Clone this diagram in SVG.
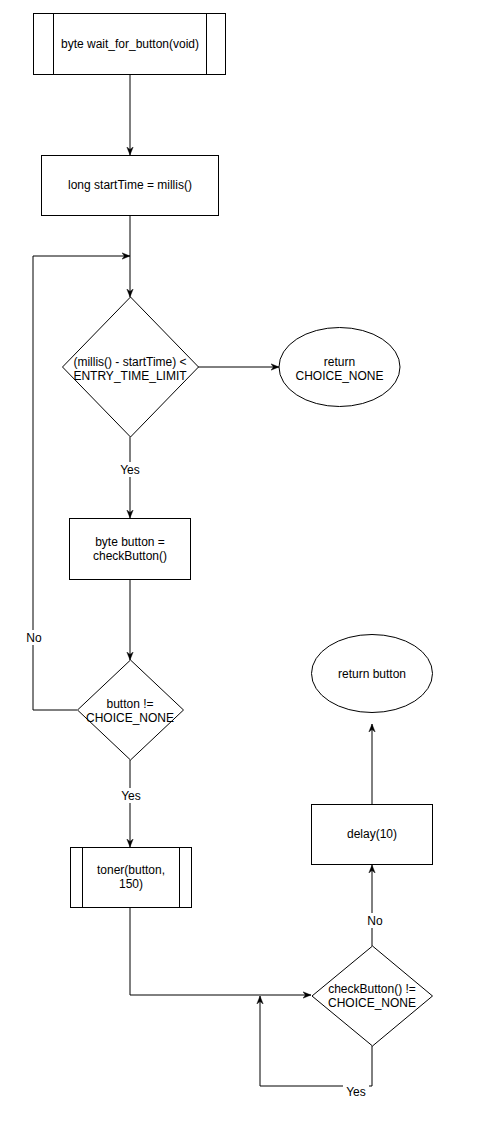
<svg xmlns="http://www.w3.org/2000/svg" width="493" height="1134" viewBox="0 0 493 1134">
<style>
.n{fill:#fff;stroke:#000;stroke-width:1}
.c{fill:none;stroke:#000;stroke-width:1}
text{font-family:"Liberation Sans",Arial,sans-serif;font-size:12px;fill:#000;text-anchor:middle}
.lbl{fill:#000}
.bg{fill:#fff}
</style>
<defs>
<marker id="a" viewBox="0 0 10 10" refX="10" refY="5" markerWidth="8" markerHeight="8" markerUnits="userSpaceOnUse" orient="auto">
<path d="M0,1 L10,5 L0,9 L3,5 z" fill="#000" stroke="#000" stroke-width="0.5"/>
</marker>
</defs>
<rect width="493" height="1134" fill="#fff"/>
<g id="connectors">
<path class="c" d="M130,74 V155" marker-end="url(#a)"/>
<path class="c" d="M130,215 V297" marker-end="url(#a)"/>
<path class="c" d="M198,367 H279" marker-end="url(#a)"/>
<path class="c" d="M130,437 V518" marker-end="url(#a)"/>
<path class="c" d="M130,579 V660" marker-end="url(#a)"/>
<path class="c" d="M77,710 H33 V256 H130" marker-end="url(#a)"/>
<path class="c" d="M130,760 V847" marker-end="url(#a)"/>
<path class="c" d="M130,907 V995 H311" marker-end="url(#a)"/>
<path class="c" d="M372,1046 V1086 H260 V996" marker-end="url(#a)"/>
<path class="c" d="M372,946 V865" marker-end="url(#a)"/>
<path class="c" d="M372,804 V724" marker-end="url(#a)"/>
<rect class="bg" x="117" y="462" width="26" height="15"/>
<text x="130" y="474">Yes</text>
<rect class="bg" x="24" y="630" width="20" height="15"/>
<text x="34" y="642">No</text>
<rect class="bg" x="117" y="788" width="26" height="15"/>
<text x="131" y="800">Yes</text>
<rect class="bg" x="365" y="913" width="20" height="15"/>
<text x="375" y="925">No</text>
<rect class="bg" x="343" y="1084" width="26" height="15"/>
<text x="356" y="1096">Yes</text>
</g>
<g id="start">
<rect class="n" x="33.5" y="13.5" width="192" height="61"/>
<path class="c" d="M53.5,13.5 V74.5 M206.5,13.5 V74.5"/>
<text x="130" y="48">byte wait_for_button(void)</text>
</g>
<g id="startTime">
<rect class="n" x="41.5" y="155.5" width="177" height="60"/>
<text x="130" y="189">long startTime = millis()</text>
</g>
<g id="timeCheck">
<path class="n" d="M130.5,297 L198.5,367 L130.5,437 L62.5,367 Z"/>
<text x="130" y="366">(millis() - startTime) &lt;</text>
<text x="130" y="380">ENTRY_TIME_LIMIT</text>
</g>
<g id="returnNone">
<ellipse class="n" cx="339.5" cy="367" rx="60.5" ry="39.5"/>
<text x="339.5" y="366">return</text>
<text x="339.5" y="380">CHOICE_NONE</text>
</g>
<g id="checkBtn">
<rect class="n" x="69.5" y="518.5" width="121" height="61"/>
<text x="130" y="546">byte button =</text>
<text x="130" y="560">checkButton()</text>
</g>
<g id="buttonCheck">
<path class="n" d="M130.5,660 L183.5,710 L130.5,760 L77.5,710 Z"/>
<text x="130" y="708">button !=</text>
<text x="130" y="722">CHOICE_NONE</text>
</g>
<g id="toner">
<rect class="n" x="70.5" y="847.5" width="121" height="60"/>
<path class="c" d="M82.5,847.5 V907.5 M179.5,847.5 V907.5"/>
<text x="131" y="874">toner(button,</text>
<text x="131" y="888">150)</text>
</g>
<g id="releaseCheck">
<path class="n" d="M372.5,946 L432.5,996 L372.5,1046 L312,996 Z"/>
<text x="372" y="993">checkButton() !=</text>
<text x="372" y="1007">CHOICE_NONE</text>
</g>
<g id="delay">
<rect class="n" x="311.5" y="804.5" width="121" height="60"/>
<text x="372" y="838">delay(10)</text>
</g>
<g id="returnButton">
<ellipse class="n" cx="372" cy="673.5" rx="60.5" ry="39"/>
<text x="372" y="678">return button</text>
</g>
</svg>
